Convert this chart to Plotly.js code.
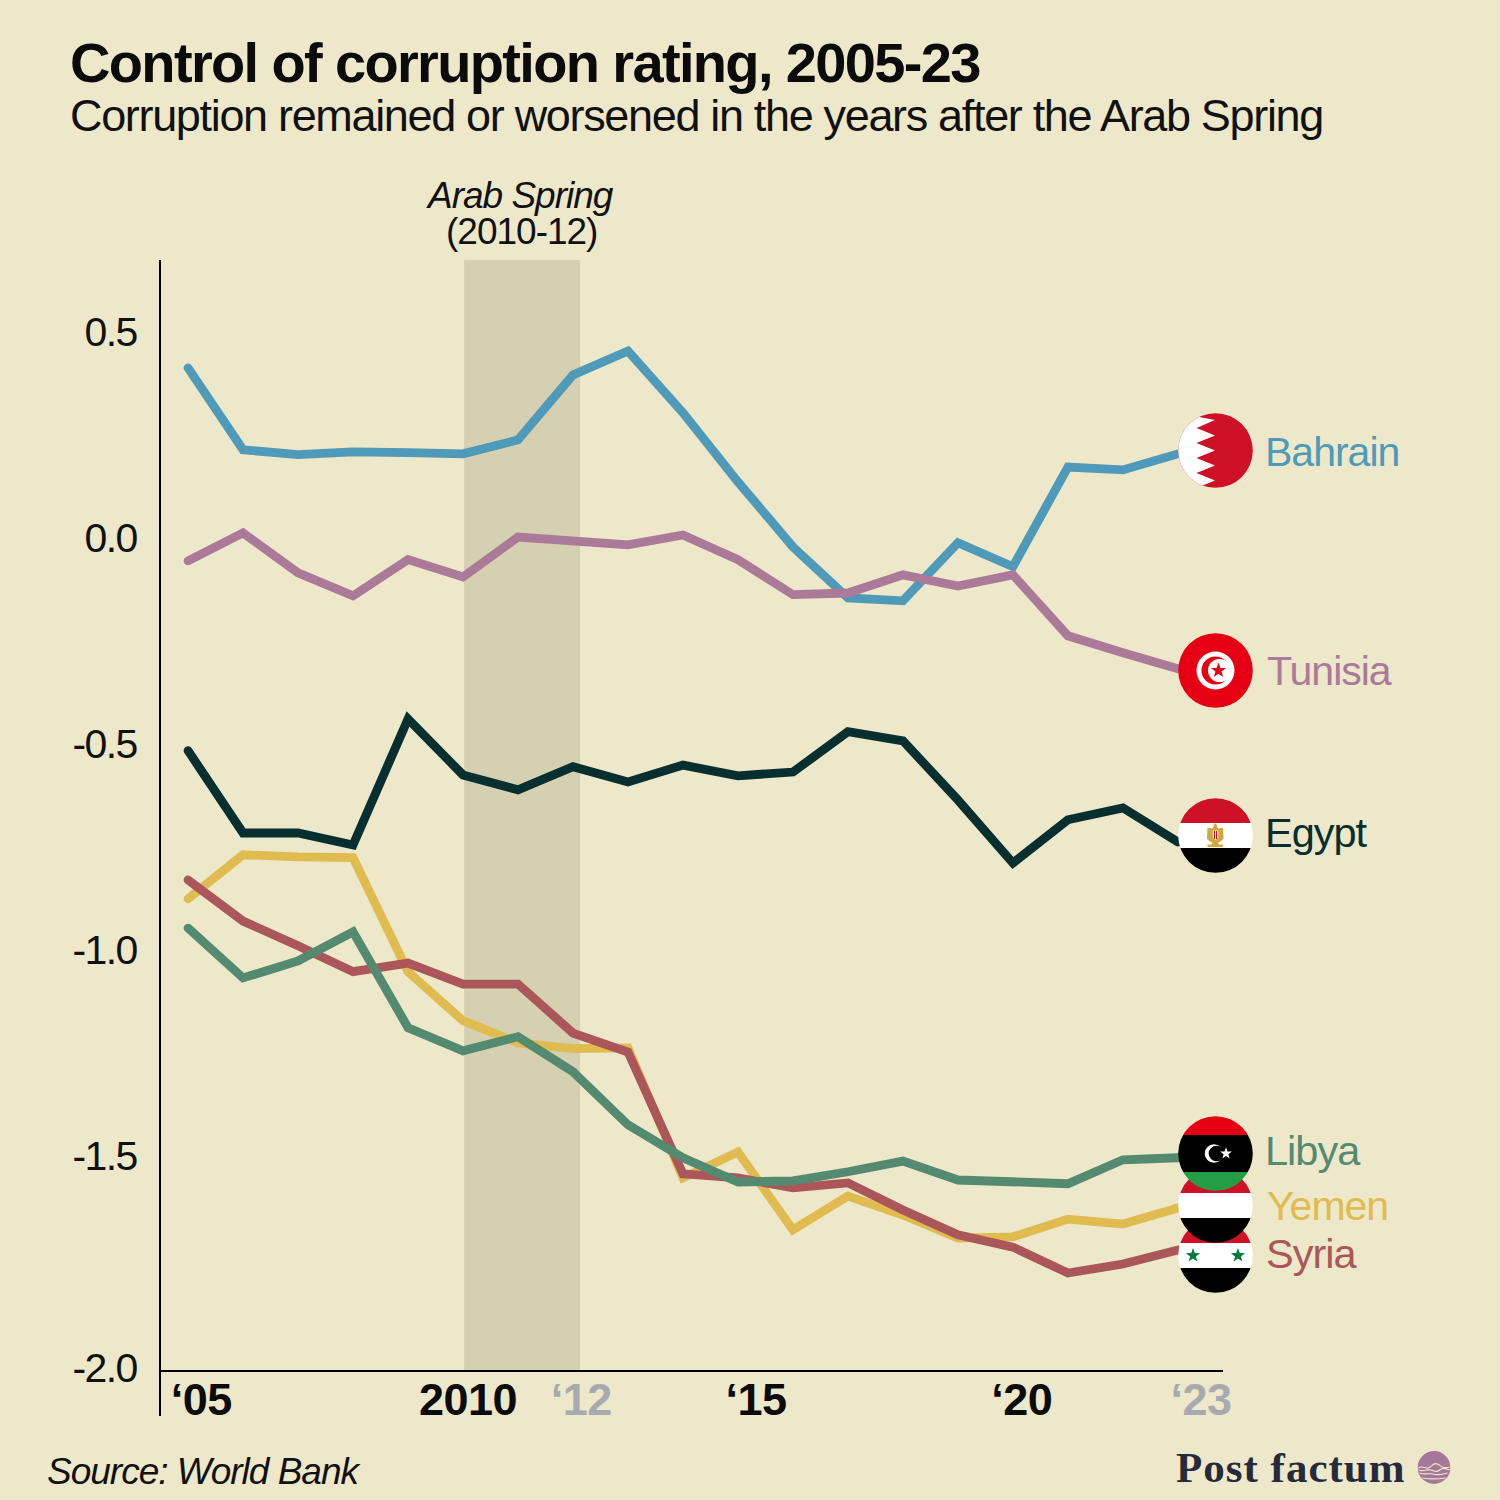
<!DOCTYPE html>
<html><head><meta charset="utf-8">
<script src="https://cdn.plot.ly/plotly-3.0.1.min.js"></script>
<style>
html,body{margin:0;padding:0;background:#ede8ca}
.scatterlayer .js-line{stroke-linecap:round!important;stroke-linejoin:miter!important;stroke-miterlimit:4}
.gtitle{letter-spacing:-1.65px}
.annotation text{letter-spacing:-1px}
.annotation[data-index="0"] text{letter-spacing:-1.33px}
.annotation[data-index="10"] text{letter-spacing:1px}
.ytick text{letter-spacing:-1.6px}
.xtick text{letter-spacing:-0.5px}
</style></head><body><div id="chart" style="width:1500px;height:1500px"></div>
<script>
const years=[2005,2006,2007,2008,2009,2010,2011,2012,2013,2014,2015,2016,2017,2018,2019,2020,2021,2022,2023];
const bahrain=[0.413,0.214,0.202,0.209,0.207,0.204,0.238,0.396,0.454,0.304,0.136,-0.022,-0.146,-0.153,-0.012,-0.070,0.172,0.165,0.204];
const tunisia=[-0.056,0.012,-0.085,-0.141,-0.053,-0.095,0.002,-0.007,-0.017,0.007,-0.053,-0.138,-0.134,-0.090,-0.117,-0.090,-0.238,-0.279,-0.318];
const egypt=[-0.517,-0.717,-0.717,-0.746,-0.440,-0.576,-0.612,-0.556,-0.593,-0.552,-0.578,-0.569,-0.471,-0.493,-0.637,-0.790,-0.685,-0.656,-0.739];
const yemen=[-0.877,-0.770,-0.775,-0.777,-1.054,-1.173,-1.227,-1.241,-1.239,-1.555,-1.492,-1.681,-1.599,-1.645,-1.701,-1.698,-1.655,-1.667,-1.628];
const syria=[-0.831,-0.931,-0.991,-1.054,-1.033,-1.084,-1.084,-1.203,-1.249,-1.545,-1.555,-1.579,-1.567,-1.633,-1.693,-1.723,-1.786,-1.764,-1.730];
const libya=[-0.948,-1.069,-1.028,-0.957,-1.190,-1.246,-1.212,-1.297,-1.426,-1.506,-1.565,-1.562,-1.540,-1.514,-1.560,-1.567,-1.569,-1.511,-1.506];
const seriesNames=['Bahrain','Tunisia','Egypt','Yemen','Syria','Libya'];
const seriesColors=['#4e9ab8','#ab7a98','#082f2f','#e0bb50','#ab5759','#548a70'];
const seriesValues=[bahrain,tunisia,egypt,yemen,syria,libya];
const yTickVals=[0.5,0,-0.5,-1,-1.5,-2.015];
const yTickText=['0.5','0.0','-0.5','-1.0','-1.5','-2.0'];
const xTickVals=[2005.24,2010.09,2012.15,2015.33,2020.16,2023.42];
const xTickText=['<b>‘05</b>','<b>2010</b>','<b style="color:#a9aab0">‘12</b>','<b>‘15</b>','<b>‘20</b>','<b style="color:#a9aab0">‘23</b>'];
const springRange=[2010.02,2012.13];

const L=160,R=1223,T=260,B=1371;
const px=x=>(x-L)/(R-L), py=y=>(B-y)/(B-T);
const star=(cx,cy,r,fill)=>{let p=[];for(let i=0;i<10;i++){const a=-Math.PI/2+i*Math.PI/5,q=i%2?r*0.4:r;p.push((cx+q*Math.cos(a)).toFixed(2)+','+(cy+q*Math.sin(a)).toFixed(2));}return `<polygon points="${p.join(' ')}" fill="${fill}"/>`;};
const svgWrap=(inner)=>'data:image/svg+xml;charset=utf-8,'+encodeURIComponent(`<svg xmlns="http://www.w3.org/2000/svg" width="75" height="75" viewBox="0 0 75 75"><defs><clipPath id="c"><circle cx="37.5" cy="37.5" r="37.3"/></clipPath></defs><g clip-path="url(#c)">${inner}</g></svg>`);
const bands=(a,b,c,h1,h2)=>`<rect width="75" height="${h1}" fill="${a}"/><rect y="${h1}" width="75" height="${h2-h1}" fill="${b}"/><rect y="${h2}" width="75" height="${75-h2}" fill="${c}"/>`;
const eagle=`<path d="M36 25.8h2.5l.7 3.2 1 1.5 4.8-.8.5 11-2.5 2.5-2.8 1.3.6 2h4.2v2.6H29.5v-2.6h4.2l.6-2-2.8-1.3-2.5-2.5.5-11 4.8.8 1-1.5z" fill="#cda93f"/><path d="M34.8 32.5h5.4v7l-2.7 2.8-2.7-2.8z" fill="#f3ead0"/><rect x="36" y="33" width="1" height="8" fill="#ce1126"/><rect x="38" y="33" width="1" height="8" fill="#ce1126"/>`;
const flags={
 bahrain:svgWrap(`<rect width="75" height="75" fill="#ce1126"/><polygon points="0,0 37,7 18.5,15 37,22.5 18.5,30 37,37.5 18.5,45 37,52.5 18.5,60 37,67.5 18.5,75 0,75" fill="#fff"/>`),
 tunisia:svgWrap(`<rect width="75" height="75" fill="#e70013"/><circle cx="37.5" cy="37.5" r="19" fill="#fff"/><circle cx="37.5" cy="37.5" r="14" fill="#e70013"/><circle cx="41.5" cy="37.5" r="11.5" fill="#fff"/>${star(40.5,37.5,8,'#e70013')}`),
 egypt:svgWrap(bands('#ce1126','#fff','#000',25,50)+eagle),
 libya:svgWrap(bands('#e70013','#000','#239e46',19,56)+`<circle cx="36" cy="37.5" r="9.3" fill="#fff"/><circle cx="38.5" cy="37.5" r="7.8" fill="#000"/>${star(48,37.5,6.2,'#fff')}`),
 yemen:svgWrap(bands('#ce1126','#fff','#000',25,50)),
 syria:svgWrap(bands('#ce1126','#fff','#000',25,50)+star(15,37.5,7.5,'#007a3d')+star(60,37.5,7.5,'#007a3d'))
};
const logo='data:image/svg+xml;charset=utf-8,'+encodeURIComponent(`<svg xmlns="http://www.w3.org/2000/svg" width="33" height="33" viewBox="0 0 33 33"><circle cx="16.5" cy="16.5" r="16.4" fill="#a5789a"/><g fill="none" stroke="#ede8ca" stroke-width="1.1"><path d="M1 17c4-3 7 1 10 0s5-6 9-4 5 5 12 3"/><path d="M1 19c5 2 8-1 12 0s6 3 9 0 6-2 10 0"/><path d="M2 22c5 2 9 0 13 1s8 1 15-1"/><path d="M5 27c6 1 16 1 23 0"/></g></svg>`);
const flagPlacement=[['syria',1255.5],['yemen',1205.5],['libya',1153.5],['egypt',835.5],['tunisia',670.5],['bahrain',450.5]];
const images=flagPlacement.map(([k,cy])=>({source:flags[k],xref:'paper',yref:'paper',x:px(1178),y:py(cy-37.5),sizex:75/(R-L),sizey:75/(B-T),xanchor:'left',yanchor:'top',sizing:'stretch',layer:'above'}));
images.push({source:logo,xref:'paper',yref:'paper',x:px(1417.5),y:py(1451),sizex:33/(R-L),sizey:33/(B-T),xanchor:'left',yanchor:'top',sizing:'stretch',layer:'above'});

const traces=seriesNames.map((n,i)=>({type:'scatter',mode:'lines',x:years,y:seriesValues[i],name:n,line:{color:seriesColors[i],width:8.8,shape:'linear'},hoverinfo:'skip',showlegend:false}));
const sans='"Liberation Sans",Arial,sans-serif';
const note=(text,x,y,size,color,opts={})=>Object.assign({text,xref:'paper',yref:'paper',x:px(x),y:py(y),xanchor:'left',yanchor:'middle',showarrow:false,font:{family:sans,size,color},align:'left'},opts);
const annotations=[
 note('Corruption remained or worsened in the years after the Arab Spring',68,115,45,'#111'),
 note('<i>Arab Spring</i>',525,195,37,'#111',{xanchor:'center'}),
 note('(2010-12)',526,231,37,'#111',{xanchor:'center'}),
 note('Bahrain',1263,452,41,seriesColors[0]),
 note('Tunisia',1264.5,671,41,seriesColors[1]),
 note('Egypt',1263,833,41.5,seriesColors[2]),
 note('Libya',1262.5,1150,41.5,seriesColors[5]),
 note('Yemen',1265,1206,41,seriesColors[3]),
 note('Syria',1264,1253,41.5,seriesColors[4]),
 note('<i>Source: World Bank</i>',45,1471,37,'#111'),
 note('<b>Post factum</b>',1174,1467,43,'#252b3a',{font:{family:'"Liberation Serif",serif',size:43,color:'#252b3a'}})
];
const layout={
 width:1500,height:1500,paper_bgcolor:'#ede8ca',plot_bgcolor:'#ede8ca',
 margin:{l:L,r:1500-R,t:T,b:1500-B,pad:0},showlegend:false,
 title:{text:'<b>Control of corruption rating, 2005-23</b>',xref:'paper',yref:'container',x:0,xanchor:'left',pad:{l:-90},y:1-62/1500,yanchor:'middle',font:{family:sans,size:56,color:'#0b0b0b'}},
 xaxis:{range:[2004.49,2023.82],anchor:'free',position:py(1369),tickmode:'array',tickvals:xTickVals,ticktext:xTickText,showgrid:false,zeroline:false,showline:false,ticks:'',tickfont:{family:sans,size:45,color:'#0b0b0b'},tickangle:0},
 yaxis:{range:[-2.024,0.675],tickmode:'array',tickvals:yTickVals,ticktext:yTickText,showgrid:false,zeroline:false,showline:false,ticks:'outside',ticklen:14,tickcolor:'rgba(0,0,0,0)',tickfont:{family:sans,size:41,color:'#111'}},
 shapes:[
  {type:'rect',layer:'below',xref:'x',yref:'paper',x0:springRange[0],x1:springRange[1],y0:0,y1:1,fillcolor:'#d5d0b2',line:{width:0}},
  {type:'line',xref:'paper',yref:'paper',x0:0,x1:0,y0:py(1416),y1:1,line:{color:'#000',width:2}},
  {type:'line',xref:'paper',yref:'paper',x0:0,x1:1,y0:0,y1:0,line:{color:'#000',width:2}}
 ],
 annotations,images
};
Plotly.newPlot('chart',traces,layout,{displayModeBar:false,staticPlot:true});
</script></body></html>
